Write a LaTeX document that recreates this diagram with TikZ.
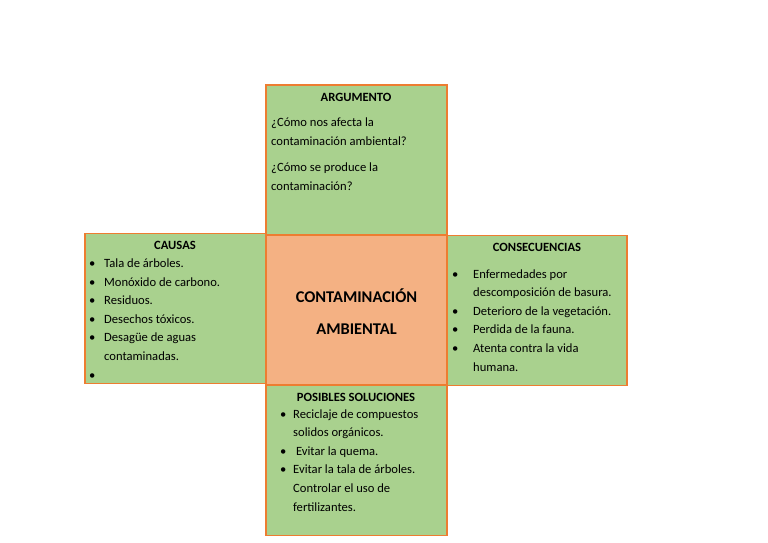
\documentclass[tikz,border=0pt]{standalone}
\usepackage{fontspec}
\setmainfont{Carlito}
\definecolor{boxgreen}{HTML}{A9D18E}
\definecolor{boxorange}{HTML}{F4B183}
\definecolor{lineorange}{HTML}{ED7D31}
\tikzset{
    greenbox/.style={draw=lineorange, line width=1.2pt, fill=boxgreen, minimum width=181pt, minimum height=150pt, inner sep=0pt},
    centerbox/.style={draw=lineorange, line width=1.2pt, fill=boxorange, minimum width=181pt, minimum height=150pt, inner sep=0pt},
    titletext/.style={anchor=base, inner sep=0pt, font=\fontsize{12.6}{15}\selectfont\bfseries},
    bodytext/.style={anchor=base west, inner sep=0pt, align=left, font=\fontsize{12.6}{18.6}\selectfont}
}
% bullet with fixed indent
\newcommand{\itm}[1]{\makebox[#1][l]{\textbullet}}
\begin{document}
\begin{tikzpicture}[x=1pt, y=-1pt]

    % Page size
    \useasboundingbox (0,0) rectangle (768,543);

    % Draw the four green boxes
    \node[greenbox] (argumento) at (356.5,160) {};
    \node[greenbox] (causas) at (175.5,308.5) {};
    \node[greenbox, minimum width=180pt] (consecuencias) at (537,310.5) {};
    \node[greenbox] (soluciones) at (356.5,460.5) {};

    % Central box on top
    \node[centerbox] (centro) at (356.5,310) {};

    % ARGUMENTO (multi-line nodes sit on their last baseline)
    \node[titletext] (argtitle) at (356,101) {ARGUMENTO};
    \node[bodytext] (argtext) at (271,190) {¿Cómo nos afecta la\\contaminación ambiental?\\[7.4pt]¿Cómo se produce la\\contaminación?};

    % CAUSAS
    \node[titletext] (caustitle) at (175,249) {CAUSAS};
    \node[bodytext] (caustext) at (89,379) {\itm{15pt}Tala de árboles.\\\itm{15pt}Monóxido de carbono.\\\itm{15pt}Residuos.\\\itm{15pt}Desechos tóxicos.\\\itm{15pt}Desagüe de aguas\\\hspace*{15pt}contaminadas.\\\itm{15pt}};

    % CONSECUENCIAS
    \node[titletext] (constitle) at (537,251) {CONSECUENCIAS};
    \node[bodytext] (constext) at (452,371) {\itm{21pt}Enfermedades por\\\hspace*{21pt}descomposición de basura.\\\itm{21pt}Deterioro de la vegetación.\\\itm{21pt}Perdida de la fauna.\\\itm{21pt}Atenta contra la vida\\\hspace*{21pt}humana.};

    % Centre text
    \node[anchor=base, inner sep=0pt, align=center, font=\fontsize{16.4}{32}\selectfont\bfseries] (centext) at (356.5,334) {CONTAMINACIÓN\\AMBIENTAL};

    % POSIBLES SOLUCIONES
    \node[titletext] (soltitle) at (356,401) {POSIBLES SOLUCIONES};
    \node[bodytext] (soltext) at (280,511) {\itm{13pt}Reciclaje de compuestos\\\hspace*{13pt}solidos orgánicos.\\\itm{13pt}\ Evitar la quema.\\\itm{13pt}Evitar la tala de árboles.\\\hspace*{13pt}Controlar el uso de\\\hspace*{13pt}fertilizantes.};

\end{tikzpicture}
\end{document}
